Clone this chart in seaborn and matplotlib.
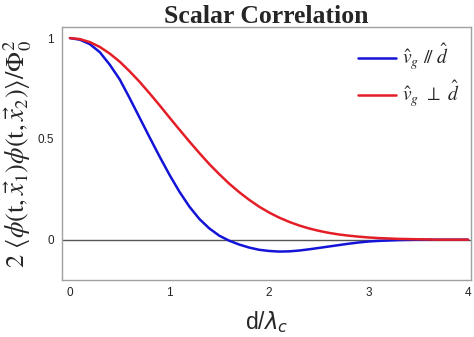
import numpy as np
import pandas as pd
import matplotlib
matplotlib.use("Agg")
import matplotlib.pyplot as plt
import seaborn as sns

# data
d_values = [0.0, 0.1, 0.2, 0.3, 0.4, 0.5, 0.6, 0.7, 0.8, 0.9, 1.0,
            1.1, 1.2, 1.3, 1.4, 1.5, 1.6, 1.7, 1.8, 1.9, 2.0,
            2.1, 2.2, 2.3, 2.4, 2.5, 2.6, 2.7, 2.8, 2.9, 3.0,
            3.1, 3.2, 3.3, 3.4, 3.5, 3.6, 3.7, 3.8, 3.9, 4.0]
parallel = [1.000, 0.992, 0.970, 0.930, 0.868, 0.795, 0.702, 0.605, 0.508, 0.413, 0.322,
            0.238, 0.164, 0.103, 0.056, 0.020, -0.005, -0.024, -0.039, -0.050, -0.056,
            -0.059, -0.058, -0.054, -0.048, -0.041, -0.034, -0.027, -0.020, -0.014, -0.009,
            -0.006, -0.004, -0.002, -0.001, 0.0, 0.0, 0.0, 0.0, 0.0, 0.0]
perpendicular = [1.000, 0.995, 0.980, 0.956, 0.923, 0.883, 0.835, 0.783, 0.726, 0.667, 0.606,
                 0.546, 0.487, 0.430, 0.375, 0.325, 0.278, 0.236, 0.198, 0.164, 0.135,
                 0.110, 0.089, 0.071, 0.056, 0.044, 0.034, 0.026, 0.020, 0.015, 0.011,
                 0.008, 0.006, 0.004, 0.003, 0.002, 0.001, 0.0, 0.0, 0.0, 0.0]
series_labels = [r"$\hat{v}_g\ /\!/\ \hat{d}$", r"$\hat{v}_g\ \perp\ \hat{d}$"]
x_ticks = [0, 1, 2, 3, 4]
y_ticks = [0, 0.5, 1]
y_tick_labels = ["0", "0.5", "1"]

df = pd.DataFrame({
    "d": d_values * 2,
    "value": parallel + perpendicular,
    "series": [series_labels[0]] * len(d_values) + [series_labels[1]] * len(d_values),
})

sns.set_theme(style="white")
plt.rcParams["font.family"] = ["Liberation Sans", "DejaVu Sans"]
plt.rcParams["mathtext.fontset"] = "stix"

fig = plt.figure(figsize=(4.74, 3.37), dpi=100)
ax = fig.add_axes([62 / 474, 1 - 280 / 337, (471 - 62) / 474, (280 - 27) / 337])

ax.axhline(0, color="#555555", lw=1.0, zorder=1)
sns.lineplot(data=df, x="d", y="value", hue="series",
             palette=["#1414d8", "#e41e26"], lw=1.8, ax=ax, zorder=3)
for ln in ax.get_lines():
    ln.set_solid_joinstyle("round")

ax.set_xlim(-0.08, 4.03)
ax.set_ylim(-0.2, 1.055)
ax.set_xticks(x_ticks)
ax.set_xticklabels([str(t) for t in x_ticks])
ax.set_yticks(y_ticks)
ax.set_yticklabels(y_tick_labels)

for sp in ax.spines.values():
    sp.set_color("#a0a0a0")
    sp.set_linewidth(1.0)
ax.tick_params(axis="both", which="major", labelsize=8.5, colors="#a0a0a0",
               labelcolor="#222222", length=3, width=0.8, direction="out", pad=2)
ax.tick_params(axis="y", pad=3)

ax.set_title("Scalar Correlation", fontfamily="Liberation Serif", fontweight="bold",
             fontsize=18.5, pad=3)
ax.set_xlabel(r"d/$\lambda_c$", fontsize=16.5, math_fontfamily="dejavusans", labelpad=7)
ax.set_ylabel(r"$2\ \langle\phi(\mathrm{t},\vec{x}_1)\phi(\mathrm{t},\vec{x}_2)\rangle/\Phi_0^2$",
              fontsize=19, labelpad=2)

leg = ax.legend(loc="upper right", frameon=False, fontsize=14, handlelength=1.95,
                labelspacing=0.32, handletextpad=0.3, borderaxespad=0.2,
                bbox_to_anchor=(1.0, 0.99))

fig.savefig("out.png", dpi=100)
